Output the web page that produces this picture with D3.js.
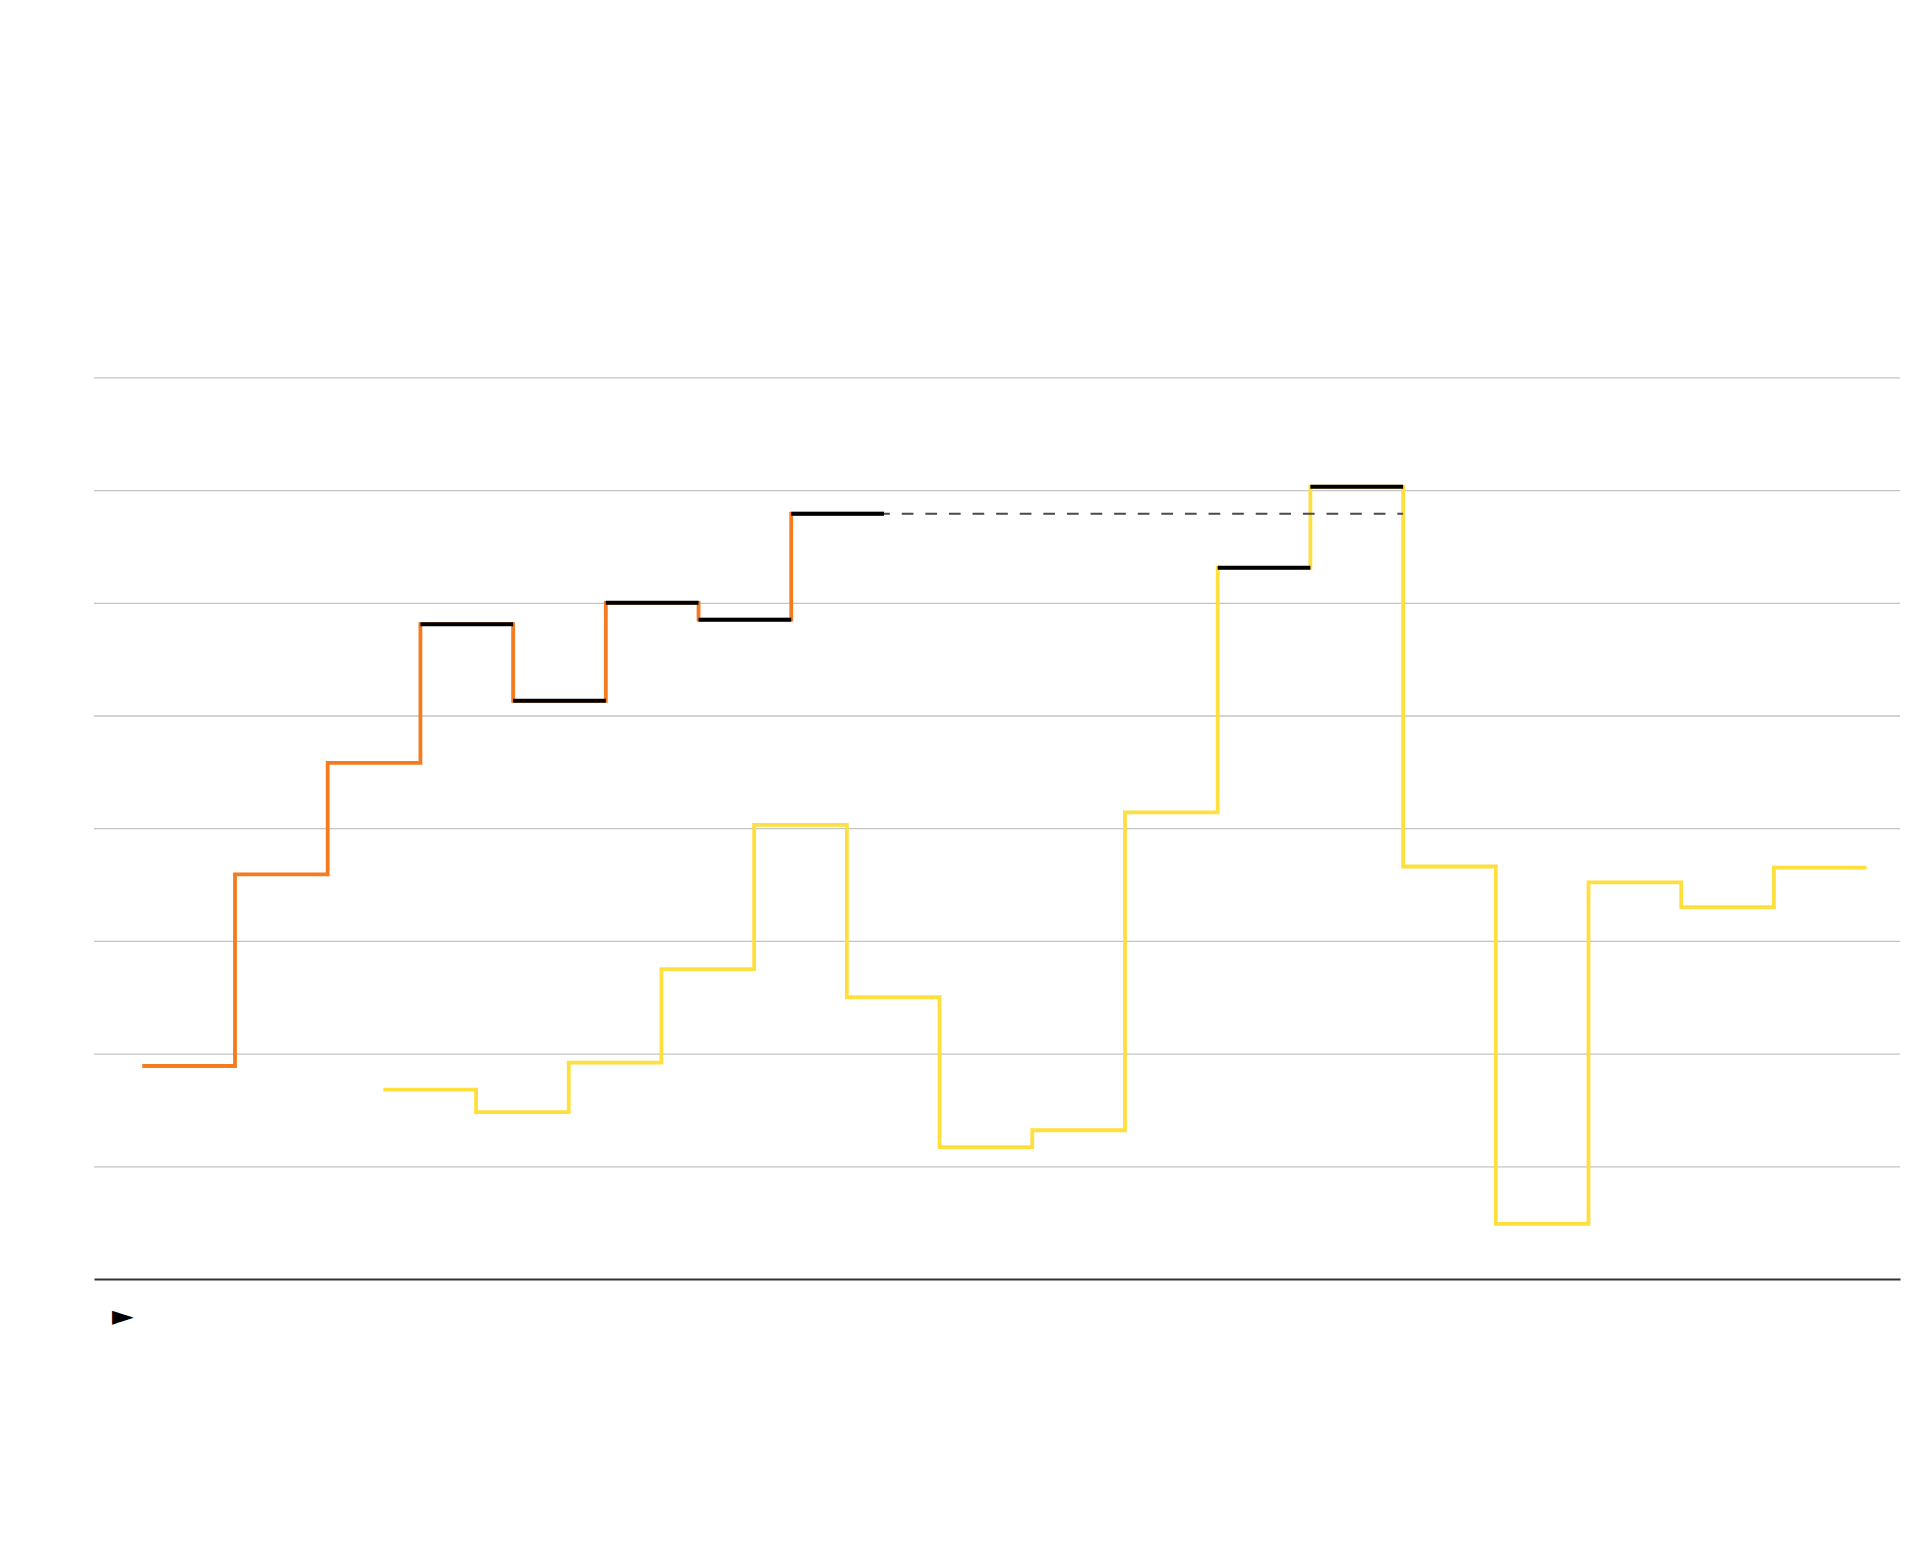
<!DOCTYPE html>
<html>
<head>
<meta charset="utf-8">
<script src="https://cdn.jsdelivr.net/npm/d3@7"></script>
<style>
  html, body { margin: 0; padding: 0; background: #fff; }
  svg { display: block; font-family: "DejaVu Sans", sans-serif; }
</style>
</head>
<body>
<svg id="step-chart"></svg>
<script>
// --- data ---
const gridTicks = [0, 1, 2, 3, 4, 5, 6, 7, 8];

const orangeStart  = 0;
const orangeValues = [1.89, 3.59, 4.58, 5.81, 5.13, 6.00, 5.85, 6.79];
const orangeBlack  = [3, 4, 5, 6, 7];

const yellowStart  = 2.6;
const yellowValues = [1.68, 1.48, 1.92, 2.75, 4.03, 2.50, 1.17, 1.32,
                      4.14, 6.31, 7.03, 3.66, 0.49, 3.52, 3.30, 3.65];
const yellowBlack  = [9, 10];

// reference level carried forward from the last orange step
const refLevel = orangeValues[orangeValues.length - 1];
const refFrom  = orangeStart + orangeValues.length;
const refTo    = yellowStart + yellowBlack[yellowBlack.length - 1] + 1;

const markerText = "\u25BA";

/** Step chart */
class StepChart {
  constructor() {
    this.svg = d3.select("#step-chart").attr("width", 1920).attr("height", 1552);

    this.x = d3.scaleLinear().domain([-0.521, 18.96]).range([94, 1900]);
    this.y = d3.scaleLinear().domain([0, 8]).range([1279, 377.4]);

    this.line = d3.line()
      .x(d => this.x(d.x))
      .y(d => this.y(d.v));
    this.stepLine = d3.line()
      .curve(d3.curveStepAfter)
      .x(d => this.x(d.x))
      .y(d => this.y(d.v));

    this.drawGrid_();
    this.drawSeries_(orangeStart, orangeValues, "#f47b20");
    this.drawSeries_(yellowStart, yellowValues, "#ffdf3d");
    this.drawRef_();
    this.drawBlack_(orangeStart, orangeValues, orangeBlack);
    this.drawBlack_(yellowStart, yellowValues, yellowBlack);
    this.drawMarker_();
  }

  drawGrid_() {
    const [x0, x1] = this.x.range();
    const gGrid = this.svg.append("g")
      .attr("transform", `translate(${x0},0)`)
      .call(d3.axisLeft(this.y)
        .tickValues(gridTicks.slice(1))
        .tickSize(-(x1 - x0))
        .tickFormat(""));
    gGrid.select(".domain").remove();
    gGrid.selectAll(".tick line")
      .attr("stroke", "#c4c4c4")
      .attr("stroke-width", 1.3);

    const gBase = this.svg.append("g")
      .attr("transform", `translate(0,${this.y(gridTicks[0])})`)
      .call(d3.axisBottom(this.x).tickValues([]).tickSizeOuter(0));
    gBase.select(".domain")
      .attr("stroke", "#333")
      .attr("stroke-width", 2);
  }

  drawSeries_(start, values, color) {
    const pts = values.map((v, i) => ({ x: start + i, v }));
    pts.push({ x: start + values.length, v: values[values.length - 1] });
    this.svg.append("path")
      .datum(pts)
      .attr("fill", "none")
      .attr("stroke", color)
      .attr("stroke-width", 3.8)
      .attr("d", this.stepLine);
  }

  drawBlack_(start, values, idx) {
    this.svg.append("g")
      .selectAll("path")
      .data(idx)
      .join("path")
      .attr("fill", "none")
      .attr("stroke", "#000")
      .attr("stroke-width", 4)
      .attr("d", i => this.line([
        { x: start + i, v: values[i] },
        { x: start + i + 1, v: values[i] }
      ]));
  }

  drawRef_() {
    this.svg.append("path")
      .datum([{ x: refFrom, v: refLevel }, { x: refTo, v: refLevel }])
      .attr("fill", "none")
      .attr("stroke", "#4a4a4a")
      .attr("stroke-width", 1.8)
      .attr("stroke-dasharray", "11.7,11.9")
      .attr("stroke-dashoffset", 5.8)
      .attr("d", this.line);
  }

  drawMarker_() {
    this.svg.append("text")
      .attr("x", 112)
      .attr("y", 1325)
      .attr("font-size", 28)
      .attr("fill", "#000")
      .text(markerText);
  }
}

new StepChart();
</script>
</body>
</html>
